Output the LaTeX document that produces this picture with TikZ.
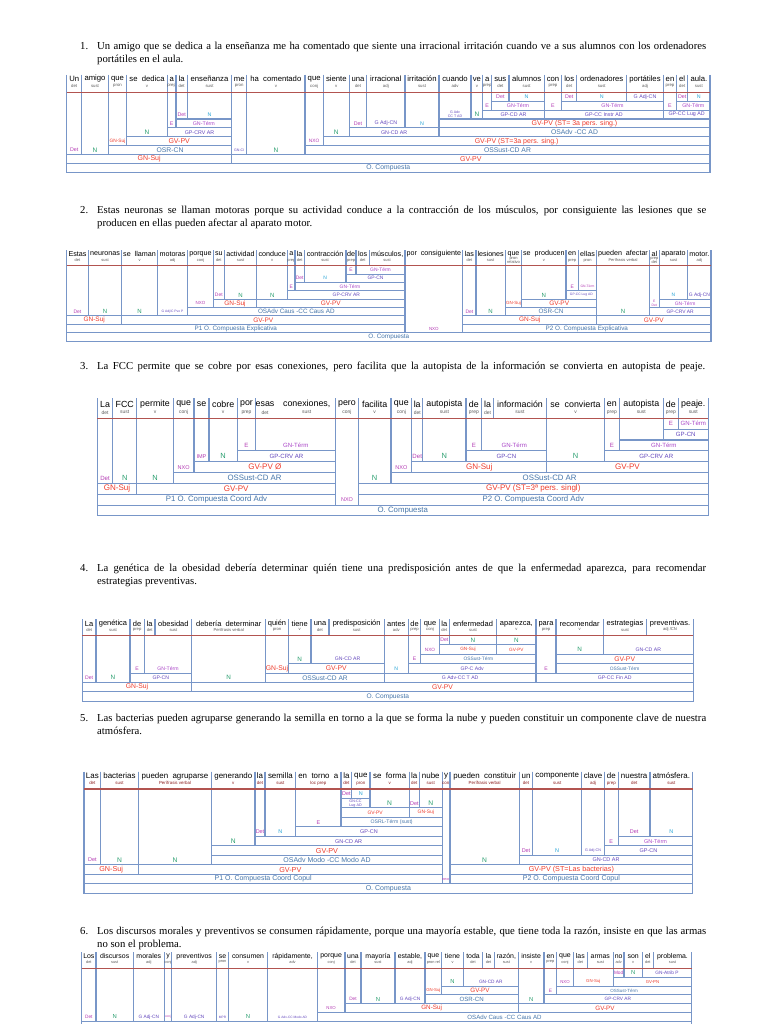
\documentclass[tikz,border=0pt]{standalone}
\usepackage{fontspec}
\setmainfont{Liberation Serif}
\setsansfont{Liberation Sans}
\usetikzlibrary{positioning}

\definecolor{gridc}{RGB}{120,150,200}
\definecolor{hdc}{RGB}{178,84,80}
\definecolor{detc}{RGB}{180,60,180}
\definecolor{nc}{RGB}{40,158,110}
\definecolor{ncy}{RGB}{40,165,215}
\definecolor{termc}{RGB}{170,70,200}
\definecolor{gpc}{RGB}{100,72,190}
\definecolor{redc}{RGB}{238,60,45}
\definecolor{osc}{RGB}{70,118,170}
\definecolor{catc}{RGB}{90,90,90}
\definecolor{catm}{RGB}{140,30,30}

\tikzset{
  boxline/.style={draw=gridc, line width=1.05pt},
  hdline/.style={draw=hdc, line width=1.4pt},
  sent/.style={font=\rmfamily\fontsize{10.7}{13}\selectfont, inner sep=0pt, anchor=base west},
  wtxt/.style={font=\sffamily\fontsize{7.7}{8}\selectfont, inner sep=0pt},
  ctxt/.style={font=\sffamily\fontsize{4.3}{4.6}\selectfont, inner sep=0pt, text=catc, align=center},
  lab/.style={font=\sffamily\fontsize{5.3}{5.6}\selectfont, inner sep=0pt, align=center},
  lDet/.style={lab, text=detc},
  lN/.style={lab, text=nc, font=\sffamily\fontsize{6.5}{7}\selectfont},
  lNc/.style={lab, text=ncy},
  lE/.style={lab, text=detc},
  lTerm/.style={lab, text=termc},
  lGP/.style={lab, text=gpc},
  lRed/.style={lab, text=redc, font=\sffamily\fontsize{7}{7.5}\selectfont},
  lRedS/.style={lab, text=redc, font=\sffamily\fontsize{4.8}{5}\selectfont},
  lOS/.style={lab, text=osc, font=\sffamily\fontsize{6.8}{7.2}\selectfont},
  lOSs/.style={lab, text=osc, font=\sffamily\fontsize{5}{5.3}\selectfont},
  lNXO/.style={lab, text=detc, font=\sffamily\fontsize{4.8}{5}\selectfont},
  lTiny/.style={lab, text=gpc, font=\sffamily\fontsize{3.6}{3.9}\selectfont},
  lTinyM/.style={lab, text=detc, font=\sffamily\fontsize{3.6}{3.9}\selectfont},
}

% header word: text and category
\newcommand\wtx[3]{\node[wtxt] at (#1,\wy) {#2}; \node[ctxt] at (#1,\cy) {#3};}
\newcommand\wrd[4]{\draw[boxline] (#1,\Ty) -- (#1,\Hy) (#2,\Ty) -- (#2,\Hy); \wtx{{(#1+#2)/2}}{#3}{#4}}
% cell from header down to row #3
\newcommand\tterm[5]{\draw[boxline] (#1,\Hy) rectangle (#2,{\Hy+#3*\rh});
  \node[#5] at ({(#1+#2)/2},{\Hy+(#3-0.5)*\rh}) {#4};}
% one row band
\newcommand\tbox[5]{\draw[boxline] (#1,{\Hy+(#3-1)*\rh}) rectangle (#2,{\Hy+#3*\rh});
  \node[#5] at ({(#1+#2)/2},{\Hy+(#3-0.5)*\rh}) {#4};}

\begin{document}
\begin{tikzpicture}[x=1pt,y=-1pt]
\useasboundingbox (0,0) rectangle (768,1024);
\fill[white] (0,0) rectangle (768,1024);
\clip (0,0) rectangle (768,1024);

% sentences
\node[sent] (n1) at (80,49.5) {1.};
\node[sent] (s1a) at (97,49.5) {\makebox[609pt][s]{Un amigo que se dedica a la enseñanza me ha comentado que siente una irracional irritación cuando ve a sus alumnos con los ordenadores}};
\node[sent] (s1b) at (97,62.5) {portátiles en el aula.};
\node[sent] (n2) at (80,213.5) {2.};
\node[sent] (s2a) at (97,213.5) {\makebox[609pt][s]{Estas neuronas se llaman motoras porque su actividad conduce a la contracción de los músculos, por consiguiente las lesiones que se}};
\node[sent] (s2b) at (97,226.5) {producen en ellas pueden afectar al aparato motor.};
\node[sent] (n3) at (80,369.5) {3.};
\node[sent] (s3a) at (97,369.5) {\makebox[608pt][s]{La FCC permite que se cobre por esas conexiones, pero facilita que la autopista de la información se convierta en autopista de peaje.}};
\node[sent] (n4) at (80,571.5) {4.};
\node[sent] (s4a) at (97,571.5) {\makebox[609pt][s]{La genética de la obesidad debería determinar quién tiene una predisposición antes de que la enfermedad aparezca, para recomendar}};
\node[sent] (s4b) at (97,584.5) {estrategias preventivas.};
\node[sent] (n5) at (80,721.5) {5.};
\node[sent] (s5a) at (97,721.5) {\makebox[609pt][s]{Las bacterias pueden agruparse generando la semilla en torno a la que se forma la nube y pueden constituir un componente clave de nuestra}};
\node[sent] (s5b) at (97,734.5) {atmósfera.};
\node[sent] (n6) at (80,934.5) {6.};
\node[sent] (s6a) at (97,934.5) {\makebox[609pt][s]{Los discursos morales y preventivos se consumen rápidamente, porque una mayoría estable, que tiene toda la razón, insiste en que las armas}};
\node[sent] (s6b) at (97,947.5) {no son el problema.};

% ---- table 1
\begin{scope}
\def\Ty{75}\def\Hy{92.3}\def\rh{8.9}\def\wy{79}\def\cy{86}
\wrd{66.7}{81.7}{Un}{det}
\wrd{81.7}{108.3}{amigo}{sust}
\wrd{108.3}{126.7}{que}{pron}
\wrd{126.7}{167.3}{se\ \ dedica}{v}
\wrd{167.3}{176}{a}{prep}
\wrd{176}{187.3}{la}{det}
\wrd{187.3}{231.7}{enseñanza}{sust}
\wrd{231.7}{246.7}{me}{pron}
\wrd{246.7}{305}{ha\ \ comentado}{v}
\wrd{305}{323.3}{que}{conj}
\wrd{323.3}{349.3}{siente}{v}
\wrd{349.3}{366.7}{una}{det}
\wrd{366.7}{405}{irracional}{adj}
\wrd{405}{439}{irritación}{sust}
\wrd{439}{471}{cuando}{adv}
\wrd{471}{482.7}{ve}{v}
\wrd{482.7}{491.7}{a}{prep}
\wrd{491.7}{509}{sus}{det}
\wrd{509}{544.3}{alumnos}{sust}
\wrd{544.3}{561.7}{con}{prep}
\wrd{561.7}{576.7}{los}{det}
\wrd{576.7}{626.7}{ordenadores}{sust}
\wrd{626.7}{663.3}{portátiles}{adj}
\wrd{663.3}{676.7}{en}{prep}
\wrd{676.7}{687.7}{el}{det}
\wrd{687.7}{710}{aula.}{sust}
\tterm{66.7}{81.7}{7}{Det}{lDet}
\tterm{81.7}{108.3}{7}{N}{lN}
\tterm{108.3}{126.7}{6}{GN-Suj}{lRedS}
\tterm{126.7}{167.3}{5}{N}{lN}
\tterm{167.3}{176}{4}{E}{lE}
\tterm{176}{187.3}{3}{Det}{lDet}
\tterm{187.3}{231.7}{3}{N}{lNc}
\tbox{176}{231.7}{4}{GN-Térm}{lTerm}
\tbox{167.3}{231.7}{5}{GP-CRV AR}{lGP}
\tbox{126.7}{231.7}{6}{GV-PV}{lRed}
\tbox{108.3}{231.7}{7}{OSR-CN}{lOS}
\tbox{66.7}{231.7}{8}{GN-Suj}{lRed}
\tterm{231.7}{246.7}{7}{GN-CI}{lTiny}
\tterm{246.7}{305}{7}{N}{lN}
\tterm{305}{323.3}{6}{NXO}{lNXO}
\tterm{323.3}{349.3}{5}{N}{lN}
\tterm{349.3}{366.7}{4}{Det}{lDet}
\tterm{366.7}{405}{4}{G Adj-CN}{lGP}
\tterm{405}{439}{4}{N}{lNc}
\tbox{349.3}{439}{5}{GN-CD AR}{lGP}
\tterm{439}{471}{3}{G Adv\\CC T AD}{lTiny}
\tterm{471}{482.7}{3}{N}{lN}
\tterm{482.7}{491.7}{2}{E}{lE}
\tterm{491.7}{509}{1}{Det}{lDet}
\tterm{509}{544.3}{1}{N}{lNc}
\tbox{491.7}{544.3}{2}{GN-Térm}{lTerm}
\tbox{482.7}{544.3}{3}{GP-CD AR}{lGP}
\tterm{544.3}{561.7}{2}{E}{lE}
\tterm{561.7}{576.7}{1}{Det}{lDet}
\tterm{576.7}{626.7}{1}{N}{lNc}
\tterm{626.7}{663.3}{1}{G Adj-CN}{lGP}
\tbox{561.7}{663.3}{2}{GN-Térm}{lTerm}
\tbox{544.3}{663.3}{3}{GP-CC Instr AD}{lGP}
\tterm{663.3}{676.7}{2}{E}{lE}
\tterm{676.7}{687.7}{1}{Det}{lDet}
\tterm{687.7}{710}{1}{N}{lNc}
\tbox{676.7}{710}{2}{GN-Térm}{lTerm}
\tbox{663.3}{710}{3}{GP-CC Lug AD}{lGP}
\tbox{439}{710}{4}{GV-PV (ST= 3a pers. sing.)}{lRed}
\tbox{439}{710}{5}{OSAdv -CC AD}{lOS}
\tbox{323.3}{710}{6}{GV-PV (ST=3a pers. sing.)}{lRed}
\tbox{305}{710}{7}{OSSust-CD AR}{lOS}
\tbox{231.7}{710}{8}{GV-PV}{lRed}
\tbox{66.7}{710}{9}{O. Compuesta}{lOS}
\draw[hdline] (66.7,\Hy) -- (710,\Hy);
\end{scope}

% ---- table 2
\begin{scope}[every node/.append style={scale=0.93}]
\def\Ty{250}\def\Hy{265.7}\def\rh{8.37}\def\wy{254}\def\cy{260.5}
\wrd{66.7}{88.3}{Estas}{det}
\wrd{88.3}{121.7}{neuronas}{sust}
\wrd{121.7}{157.3}{se\ \ llaman}{v}
\wrd{157.3}{187.7}{motoras}{adj}
\wrd{187.7}{213.3}{porque}{conj}
\wrd{213.3}{224.3}{su}{det}
\wrd{224.3}{256.7}{actividad}{sust}
\wrd{256.7}{287.7}{conduce}{v}
\wrd{287.7}{295}{a}{prep}
\wrd{295}{304.3}{la}{det}
\wrd{304.3}{346}{contracción}{sust}
\wrd{346}{356}{de}{prep}
\wrd{356}{369.3}{los}{det}
\wrd{369.3}{405}{músculos,}{sust}
\wrd{405}{462.7}{por\ \ consiguiente}{}
\wrd{462.7}{476}{las}{det}
\wrd{476}{505.3}{lesiones}{sust}
\wrd{505.3}{521.7}{que}{pron\\relativo}
\wrd{521.7}{566}{se\ \ producen}{v}
\wrd{566}{578.3}{en}{prep}
\wrd{578.3}{596.7}{ellas}{pron}
\wrd{596.7}{649.3}{pueden\ \ afectar}{Perífrasis verbal}
\wrd{649.3}{659.3}{al}{prep\\det}
\wrd{659.3}{687.7}{aparato}{sust}
\wrd{687.7}{711}{motor.}{adj}
\tterm{346}{356}{1}{E}{lE}
\tterm{356}{405}{1}{GN-Térm}{lTerm}
\tbox{346}{405}{2}{GP-CN}{lGP}
\tterm{295}{304.3}{2}{Det}{lDet}
\tterm{304.3}{346}{2}{N}{lNc}
\tterm{287.7}{295}{3}{E}{lE}
\tbox{295}{405}{3}{GN-Térm}{lTerm}
\tbox{287.7}{405}{4}{GP-CRV AR}{lGP}
\tterm{213.3}{224.3}{4}{Det}{lDet}
\tterm{224.3}{256.7}{4}{N}{lN}
\tterm{256.7}{287.7}{4}{N}{lN}
\tterm{187.7}{213.3}{5}{NXO}{lNXO}
\tbox{213.3}{256.7}{5}{GN-Suj}{lRed}
\tbox{256.7}{405}{5}{GV-PV}{lRed}
\tterm{66.7}{88.3}{6}{Det}{lDet}
\tterm{88.3}{121.7}{6}{N}{lN}
\tterm{121.7}{157.3}{6}{N}{lN}
\tterm{157.3}{187.7}{6}{G Adj/C Pvo P}{lTiny}
\tbox{187.7}{405}{6}{OSAdv Caus -CC Caus AD}{lOS}
\tbox{66.7}{121.7}{7}{GN-Suj}{lRed}
\tbox{121.7}{405}{7}{GV-PV}{lRed}
\tbox{66.7}{405}{8}{P1 O. Compuesta Explicativa}{lOS}
\tterm{405}{462.7}{8}{NXO}{lNXO}
\tterm{462.7}{476}{6}{Det}{lDet}
\tterm{476}{505.3}{6}{N}{lN}
\tterm{505.3}{521.7}{5}{GN-Suj}{lRedS}
\tterm{521.7}{566}{4}{N}{lN}
\tterm{566}{578.3}{3}{E}{lE}
\tterm{578.3}{596.7}{3}{GN-Térm}{lTinyM}
\tbox{566}{596.7}{4}{GP-CC Lug AD}{lTiny}
\tbox{521.7}{596.7}{5}{GV-PV}{lRed}
\tbox{505.3}{596.7}{6}{OSR-CN}{lOS}
\tbox{462.7}{596.7}{7}{GN-Suj}{lRed}
\tterm{596.7}{649.3}{6}{N}{lN}
\tterm{649.3}{659.3}{5}{E\\Det}{lTinyM}
\tterm{659.3}{687.7}{4}{N}{lNc}
\tterm{687.7}{711}{4}{G Adj-CN}{lGP}
\tbox{659.3}{711}{5}{GN-Térm}{lTerm}
\tbox{649.3}{711}{6}{GP-CRV AR}{lGP}
\tbox{596.7}{711}{7}{GV-PV}{lRed}
\tbox{462.7}{711}{8}{P2 O. Compuesta Explicativa}{lOS}
\tbox{66.7}{711}{9}{O. Compuesta}{lOS}
\draw[hdline] (66.7,\Hy) -- (711,\Hy);
\end{scope}

% ---- table 3
\begin{scope}[every node/.append style={scale=1.15}]
\def\Ty{398.3}\def\Hy{418.3}\def\rh{10.85}\def\wy{404}\def\cy{412.3}
\wrd{97.3}{112.7}{La}{det}
\wrd{112.7}{136.7}{FCC}{sust}
\wrd{136.7}{173.3}{permite}{v}
\wrd{173.3}{194}{que}{conj}
\wrd{194}{209}{se}{}
\wrd{209}{237.3}{cobre}{v}
\wrd{237.3}{255.7}{por}{prep}
\wrd{255.7}{335.7}{}{}
\wtx{265}{esas}{det}
\wtx{306.7}{conexiones,}{sust}
\wrd{335.7}{358.3}{pero}{conj}
\wrd{358.3}{391}{facilita}{v}
\wrd{391}{411.7}{que}{conj}
\wrd{411.7}{422.7}{la}{det}
\wrd{422.7}{466}{autopista}{sust}
\wrd{466}{481.7}{de}{prep}
\wrd{481.7}{493.3}{la}{det}
\wrd{493.3}{546.7}{información}{sust}
\wrd{546.7}{604.3}{se\ \ convierta}{v}
\wrd{604.3}{619.3}{en}{prep}
\wrd{619.3}{663.3}{autopista}{sust}
\wrd{663.3}{678.3}{de}{prep}
\wrd{678.3}{708.3}{peaje.}{sust}
\tterm{663.3}{678.3}{1}{E}{lE}
\tterm{678.3}{708.3}{1}{GN-Térm}{lTerm}
\tbox{663.3}{708.3}{2}{GP-CN}{lGP}
\tterm{619.3}{663.3}{2}{}{lab}
\tterm{237.3}{255.7}{3}{E}{lE}
\tterm{255.7}{335.7}{3}{GN-Térm}{lTerm}
\tterm{466}{481.7}{3}{E}{lE}
\tterm{481.7}{546.7}{3}{GN-Térm}{lTerm}
\tterm{604.3}{619.3}{3}{E}{lE}
\tbox{619.3}{708.3}{3}{GN-Térm}{lTerm}
\tterm{194}{209}{4}{IMP}{lNXO}
\tterm{209}{237.3}{4}{N}{lN}
\tbox{237.3}{335.7}{4}{GP-CRV AR}{lGP}
\tterm{411.7}{422.7}{4}{Det}{lDet}
\tterm{422.7}{466}{4}{N}{lN}
\tbox{466}{546.7}{4}{GP-CN}{lGP}
\tterm{546.7}{604.3}{4}{N}{lN}
\tbox{604.3}{708.3}{4}{GP-CRV AR}{lGP}
\tterm{173.3}{194}{5}{NXO}{lNXO}
\tbox{194}{335.7}{5}{GV-PV Ø}{lRed}
\tterm{391}{411.7}{5}{NXO}{lNXO}
\tbox{411.7}{546.7}{5}{GN-Suj}{lRed}
\tbox{546.7}{708.3}{5}{GV-PV}{lRed}
\tterm{97.3}{112.7}{6}{Det}{lDet}
\tterm{112.7}{136.7}{6}{N}{lN}
\tterm{136.7}{173.3}{6}{N}{lN}
\tbox{173.3}{335.7}{6}{OSSust-CD AR}{lOS}
\tterm{358.3}{391}{6}{N}{lN}
\tbox{391}{708.3}{6}{OSSust-CD AR}{lOS}
\tbox{97.3}{136.7}{7}{GN-Suj}{lRed}
\tbox{136.7}{335.7}{7}{GV-PV}{lRed}
\tbox{358.3}{708.3}{7}{GV-PV (ST=3ª pers. singl)}{lRed}
\tbox{97.3}{335.7}{8}{P1 O. Compuesta Coord Adv}{lOS}
\tterm{335.7}{358.3}{8}{NXO}{lNXO}
\tbox{358.3}{708.3}{8}{P2 O. Compuesta Coord Adv}{lOS}
\tbox{97.3}{708.3}{9}{O. Compuesta}{lOS}
\draw[hdline] (97.3,\Hy) -- (708.3,\Hy);
\end{scope}

% ---- table 4
\begin{scope}[every node/.append style={scale=0.97}]
\def\Ty{619.3}\def\Hy{635.3}\def\rh{9.43}\def\wy{624}\def\cy{629.8}
\wrd{82.3}{96}{La}{det}
\wrd{96}{130}{genética}{sust}
\wrd{130}{144.3}{de}{prep}
\wrd{144.3}{155}{la}{det}
\wrd{155}{191.7}{obesidad}{sust}
\wrd{191.7}{265.7}{debería\ \ determinar}{Perífrasis verbal}
\wrd{265.7}{288.3}{quién}{pron}
\wrd{288.3}{311}{tiene}{v}
\wrd{311}{329}{una}{det}
\wrd{329}{384.3}{predisposición}{sust}
\wrd{384.3}{408.3}{antes}{adv}
\wrd{408.3}{420.7}{de}{prep}
\wrd{420.7}{439.3}{que}{conj}
\wrd{439.3}{449.3}{la}{det}
\wrd{449.3}{496.7}{enfermedad}{sust}
\wrd{496.7}{536}{aparezca,}{v}
\wrd{536}{556}{para}{prep}
\wrd{556}{603.3}{recomendar}{v}
\wrd{603.3}{646.7}{estrategias}{sust}
\wrd{646.7}{693.3}{preventivas.}{adj /CN}
\tterm{439.3}{449.3}{1}{Det}{lDet}
\tterm{449.3}{496.7}{1}{N}{lN}
\tterm{496.7}{536}{1}{N}{lN}
\tterm{420.7}{439.3}{2}{NXO}{lNXO}
\tbox{439.3}{496.7}{2}{GN-Suj}{lRedS}
\tbox{496.7}{536}{2}{GV-PV}{lRedS}
\tterm{556}{603.3}{2}{N}{lN}
\tterm{603.3}{693.3}{2}{GN-CD AR}{lGP}
\tterm{408.3}{420.7}{3}{E}{lE}
\tbox{420.7}{536}{3}{OSSust-Térm}{lOSs}
\tbox{556}{693.3}{3}{GV-PV}{lRed}
\tterm{288.3}{311}{3}{N}{lN}
\tterm{311}{384.3}{3}{GN-CD AR}{lGP}
\tterm{130}{144.3}{4}{E}{lE}
\tterm{144.3}{191.7}{4}{GN-Térm}{lTerm}
\tterm{265.7}{288.3}{4}{GN-Suj}{lRed}
\tbox{288.3}{384.3}{4}{GV-PV}{lRed}
\tterm{384.3}{408.3}{4}{N}{lNc}
\tbox{408.3}{536}{4}{GP-C Adv}{lGP}
\tterm{536}{556}{4}{E}{lE}
\tbox{556}{693.3}{4}{OSSust-Térm}{lOSs}
\tterm{82.3}{96}{5}{Det}{lDet}
\tterm{96}{130}{5}{N}{lN}
\tbox{130}{191.7}{5}{GP-CN}{lGP}
\tterm{191.7}{265.7}{5}{N}{lN}
\tbox{265.7}{384.3}{5}{OSSust-CD AR}{lOS}
\tbox{384.3}{536}{5}{G Adv-CC T AD}{lGP}
\tbox{536}{693.3}{5}{GP-CC Fin AD}{lGP}
\tbox{82.3}{191.7}{6}{GN-Suj}{lRed}
\tbox{191.7}{693.3}{6}{GV-PV}{lRed}
\tbox{82.3}{693.3}{7}{O. Compuesta}{lOS}
\draw[hdline] (82.3,\Hy) -- (693.3,\Hy);
\end{scope}

% ---- table 5
\begin{scope}[every node/.append style={scale=1.03}, ctxt/.append style={text=catm}]
\def\Ty{771.7}\def\Hy{789}\def\rh{9.48}\def\wy{776}\def\cy{783.3}
\wrd{84}{100.7}{Las}{det}
\wrd{100.7}{138.3}{bacterias}{sust}
\wrd{138.3}{211.7}{pueden\ \ agruparse}{Perífrasis verbal}
\wrd{211.7}{255}{generando}{v}
\wrd{255}{265}{la}{det}
\wrd{265}{295.7}{semilla}{sust}
\wrd{295.7}{341}{en\ \ torno\ \ a}{loc prep}
\wrd{341}{351.7}{la}{det}
\wrd{351.7}{370}{que}{pron}
\wrd{370}{409.3}{se\ \ forma}{v}
\wrd{409.3}{419.3}{la}{det}
\wrd{419.3}{442.3}{nube}{sust}
\wrd{442.3}{450}{y}{conj}
\wrd{450}{519.3}{pueden\ \ constituir}{Perífrasis verbal}
\wrd{519.3}{532.7}{un}{det}
\wrd{532.7}{581.7}{componente}{sust}
\wrd{581.7}{604.3}{clave}{adj}
\wrd{604.3}{618.3}{de}{prep}
\wrd{618.3}{650}{nuestra}{det}
\wrd{650}{692.7}{atmósfera.}{sust}
\tterm{341}{351.7}{1}{Det}{lDet}
\tterm{351.7}{370}{1}{N}{lNc}
\tbox{341}{370}{2}{GN-CC\\Lug AD}{lTiny}
\tterm{370}{409.3}{2}{N}{lN}
\tbox{341}{409.3}{3}{GV-PV}{lRedS}
\tterm{409.3}{419.3}{2}{Det}{lDet}
\tterm{419.3}{442.3}{2}{N}{lN}
\tbox{409.3}{442.3}{3}{GN-Suj}{lRedS}
\tterm{295.7}{341}{4}{E}{lE}
\tbox{341}{442.3}{4}{OSRL-Térm (sust)}{lOSs}
\tterm{255}{265}{5}{Det}{lDet}
\tterm{265}{295.7}{5}{N}{lNc}
\tbox{295.7}{442.3}{5}{GP-CN}{lGP}
\tterm{211.7}{255}{6}{N}{lN}
\tbox{255}{442.3}{6}{GN-CD AR}{lGP}
\tbox{211.7}{442.3}{7}{GV-PV}{lRed}
\tterm{84}{100.7}{8}{Det}{lDet}
\tterm{100.7}{138.3}{8}{N}{lN}
\tterm{138.3}{211.7}{8}{N}{lN}
\tbox{211.7}{442.3}{8}{OSAdv Modo -CC Modo AD}{lOS}
\tbox{84}{138.3}{9}{GN-Suj}{lRed}
\tbox{138.3}{442.3}{9}{GV-PV}{lRed}
\tbox{84}{442.3}{10}{P1 O. Compuesta Coord Copul}{lOS}
\tterm{442.3}{450}{10}{nexo}{lTinyM}
\tterm{618.3}{650}{5}{Det}{lDet}
\tterm{650}{692.7}{5}{N}{lNc}
\tterm{604.3}{618.3}{6}{E}{lE}
\tbox{618.3}{692.7}{6}{GN-Térm}{lTerm}
\tterm{519.3}{532.7}{7}{Det}{lDet}
\tterm{532.7}{581.7}{7}{N}{lNc}
\tterm{581.7}{604.3}{7}{G Adj-CN}{lTiny}
\tbox{604.3}{692.7}{7}{GP-CN}{lGP}
\tterm{450}{519.3}{8}{N}{lN}
\tbox{519.3}{692.7}{8}{GN-CD AR}{lGP}
\tbox{450}{692.7}{9}{GV-PV (ST=Las bacterias)}{lRed}
\tbox{450}{692.7}{10}{P2 O. Compuesta Coord Copul}{lOS}
\tbox{84}{692.7}{11}{O. Compuesta}{lOS}
\draw[hdline] (84,\Hy) -- (692.7,\Hy);
\end{scope}

% ---- table 6
\begin{scope}[every node/.append style={scale=0.9}]
\def\Ty{952.3}\def\Hy{968.5}\def\rh{8.8}\def\wy{956.5}\def\cy{962.3}
\wrd{81.7}{96}{Los}{det}
\wrd{96}{133.3}{discursos}{sust}
\wrd{133.3}{164.3}{morales}{adj}
\wrd{164.3}{171.7}{y}{conj}
\wrd{171.7}{216.7}{preventivos}{adj}
\wrd{216.7}{228.3}{se}{pron}
\wrd{228.3}{267.7}{consumen}{v}
\wrd{267.7}{317.3}{rápidamente,}{adv}
\wrd{317.3}{345}{porque}{conj}
\wrd{345}{361}{una}{det}
\wrd{361}{395}{mayoría}{sust}
\wrd{395}{425}{estable,}{adj}
\wrd{425}{441.7}{que}{pron rel}
\wrd{441.7}{463.3}{tiene}{v}
\wrd{463.3}{482.7}{toda}{det}
\wrd{482.7}{494.3}{la}{det}
\wrd{494.3}{518.3}{razón,}{sust}
\wrd{518.3}{544}{insiste}{v}
\wrd{544}{556.7}{en}{prep}
\wrd{556.7}{573.3}{que}{conj}
\wrd{573.3}{587.3}{las}{det}
\wrd{587.3}{613.3}{armas}{sust}
\wrd{613.3}{624}{no}{adv}
\wrd{624}{642.3}{son}{v}
\wrd{642.3}{653.3}{el}{det}
\wrd{653.3}{691.7}{problema.}{sust}
\tterm{613.3}{624}{1}{Mod}{lDet}
\tterm{624}{642.3}{1}{N}{lN}
\tterm{642.3}{691.7}{1}{GN-Atrib P}{lGP}
\tterm{441.7}{463.3}{2}{N}{lN}
\tterm{463.3}{518.3}{2}{GN-CD AR}{lGP}
\tterm{556.7}{573.3}{2}{NXO}{lNXO}
\tterm{573.3}{613.3}{2}{GN-Suj}{lRedS}
\tbox{613.3}{691.7}{2}{GV-PN}{lRedS}
\tterm{425}{441.7}{3}{GN-Suj}{lRedS}
\tbox{441.7}{518.3}{3}{GV-PV}{lRed}
\tterm{544}{556.7}{3}{E}{lE}
\tbox{556.7}{691.7}{3}{OSSust-Térm}{lOSs}
\tterm{345}{361}{4}{Det}{lDet}
\tterm{361}{395}{4}{N}{lN}
\tterm{395}{425}{4}{G Adj-CN}{lGP}
\tbox{425}{518.3}{4}{OSR-CN}{lOS}
\tterm{518.3}{544}{4}{N}{lN}
\tbox{544}{691.7}{4}{GP-CRV AR}{lGP}
\tterm{317.3}{345}{5}{NXO}{lNXO}
\tbox{345}{518.3}{5}{GN-Suj}{lRed}
\tbox{518.3}{691.7}{5}{GV-PV}{lRed}
\tterm{81.7}{96}{6}{Det}{lDet}
\tterm{96}{133.3}{6}{N}{lN}
\tterm{133.3}{164.3}{6}{G Adj-CN}{lGP}
\tterm{164.3}{171.7}{6}{conj}{lTinyM}
\tterm{171.7}{216.7}{6}{G Adj-CN}{lGP}
\tterm{216.7}{228.3}{6}{MPR}{lTiny}
\tterm{228.3}{267.7}{6}{N}{lN}
\tterm{267.7}{317.3}{6}{G Adv-CC Modo AD}{lTiny}
\tbox{317.3}{691.7}{6}{OSAdv Caus -CC Caus AD}{lOS}
\tbox{81.7}{691.7}{7}{}{lab}
\draw[hdline] (81.7,\Hy) -- (691.7,\Hy);
\end{scope}
\end{tikzpicture}
\end{document}
